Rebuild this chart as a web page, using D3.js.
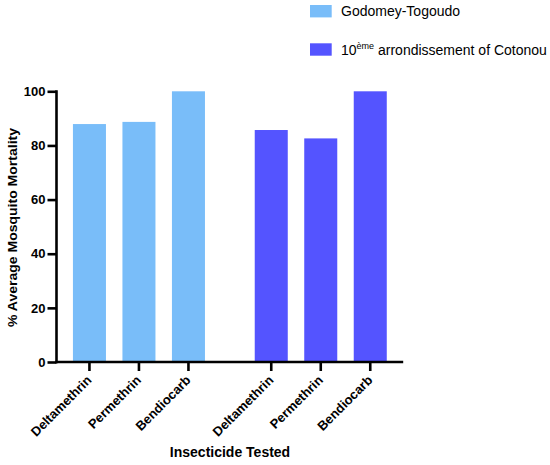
<!DOCTYPE html>
<html>
<head>
<meta charset="utf-8">
<script src="https://cdn.jsdelivr.net/npm/d3@7"></script>
<style>
  body { margin: 0; background: #fff; }
  text { font-family: "Liberation Sans", Arial, sans-serif; }
</style>
</head>
<body>
<div id="chart"></div>
<script>
// data
var sites = ["Godomey-Togoudo", "10ème arrondissement of Cotonou"];
var insecticides = ["Deltamethrin", "Permethrin", "Bendiocarb"];
var godomeyValues = [87.9, 88.7, 100];
var cotonouValues = [85.7, 82.6, 100];
var yTicks = [0, 20, 40, 60, 80, 100];
var colors = ["#79BDF9", "#5454FF"];

var w = 550, h = 465;
var plotLeft = 56.5, plotRight = 403.2, plotTop = 91.3, plotBottom = 362;

var svg = d3.select("#chart").append("svg")
    .attr("width", w)
    .attr("height", h);

var groups = [
  {site: sites[0], values: godomeyValues, color: colors[0]},
  {site: sites[1], values: cotonouValues, color: colors[1]}
];

var x0 = d3.scaleBand()
    .domain(sites)
    .range([plotLeft, plotRight])
    .paddingInner(0.183)
    .paddingOuter(0.045);

var x1 = d3.scaleBand()
    .domain(insecticides)
    .range([0, x0.bandwidth()])
    .paddingInner(0.333)
    .paddingOuter(0.1667);

var y = d3.scaleLinear()
    .domain([0, 100])
    .range([plotBottom, plotTop]);

// bars
var g = svg.selectAll("g.grp")
    .data(groups)
    .enter()
    .append("g")
    .attr("class", "grp")
    .attr("transform", function(d) { return "translate(" + x0(d.site) + ",0)"; });

g.selectAll("rect")
    .data(function(d) {
        return d.values.map(function(v, i) { return {name: insecticides[i], v: v, color: d.color}; });
    })
    .enter()
    .append("rect")
    .attr("x", function(d) { return x1(d.name); })
    .attr("width", x1.bandwidth())
    .attr("y", function(d) { return y(d.v); })
    .attr("height", function(d) { return plotBottom - y(d.v); })
    .attr("fill", function(d) { return d.color; });

// y axis
var yAxis = svg.append("g")
    .attr("transform", "translate(" + plotLeft + ",0)")
    .call(d3.axisLeft(y).tickValues(yTicks).tickSize(9).tickPadding(2).tickSizeOuter(0));
yAxis.select(".domain").attr("stroke-width", 2.6).attr("d", "M0," + (plotTop - 1) + "V" + (plotBottom + 1.3));
yAxis.selectAll(".tick line").attr("stroke-width", 2.6);
yAxis.selectAll(".tick text")
    .attr("font-size", 13)
    .attr("font-weight", "bold")
    .attr("fill", "#000");

// x axis line
svg.append("line")
    .attr("x1", plotLeft - 1.3)
    .attr("x2", plotRight)
    .attr("y1", plotBottom)
    .attr("y2", plotBottom)
    .attr("stroke", "#000")
    .attr("stroke-width", 2.6);

// x ticks per group
groups.forEach(function(d) {
    var ax = svg.append("g")
        .attr("transform", "translate(" + x0(d.site) + "," + plotBottom + ")")
        .call(d3.axisBottom(x1).tickSize(9).tickSizeOuter(0));
    ax.select(".domain").remove();
    ax.selectAll(".tick line").attr("stroke-width", 2.6);
    ax.selectAll(".tick text")
        .attr("font-size", 13)
        .attr("font-weight", "bold")
        .attr("fill", "#000")
        .attr("text-anchor", "end")
        .attr("dy", null)
        .attr("y", null)
        .attr("transform", "translate(3,19) rotate(-45)");
});

// axis titles
svg.append("text")
    .attr("x", 230)
    .attr("y", 457)
    .attr("text-anchor", "middle")
    .attr("font-size", 14)
    .attr("font-weight", "bold")
    .text("Insecticide Tested");

svg.append("text")
    .attr("transform", "translate(16.5,227.5) rotate(-90)")
    .attr("text-anchor", "middle")
    .attr("font-size", 13.5)
    .attr("font-weight", "bold")
    .attr("textLength", 199)
    .attr("lengthAdjust", "spacingAndGlyphs")
    .text("% Average Mosquito Mortality");

// legend
var legY = [5, 43.3];
var leg = svg.selectAll("g.leg")
    .data(groups)
    .enter()
    .append("g")
    .attr("class", "leg")
    .attr("transform", function(d, i) { return "translate(310," + legY[i] + ")"; });

leg.append("rect")
    .attr("width", 21.7)
    .attr("height", 12.4)
    .attr("fill", function(d) { return d.color; });

leg.append("text")
    .attr("x", 31)
    .attr("y", 11.2)
    .attr("font-size", 14)
    .each(function(d) {
        var t = d3.select(this);
        var m = d.site.match(/^(\d+)(ème)(.*)$/);
        if (m) {
            t.append("tspan").text(m[1]);
            t.append("tspan").attr("font-size", 9).attr("dy", -6).text(m[2]);
            t.append("tspan").attr("dy", 6).text(m[3]);
        } else {
            t.text(d.site);
        }
    });
</script>
</body>
</html>
